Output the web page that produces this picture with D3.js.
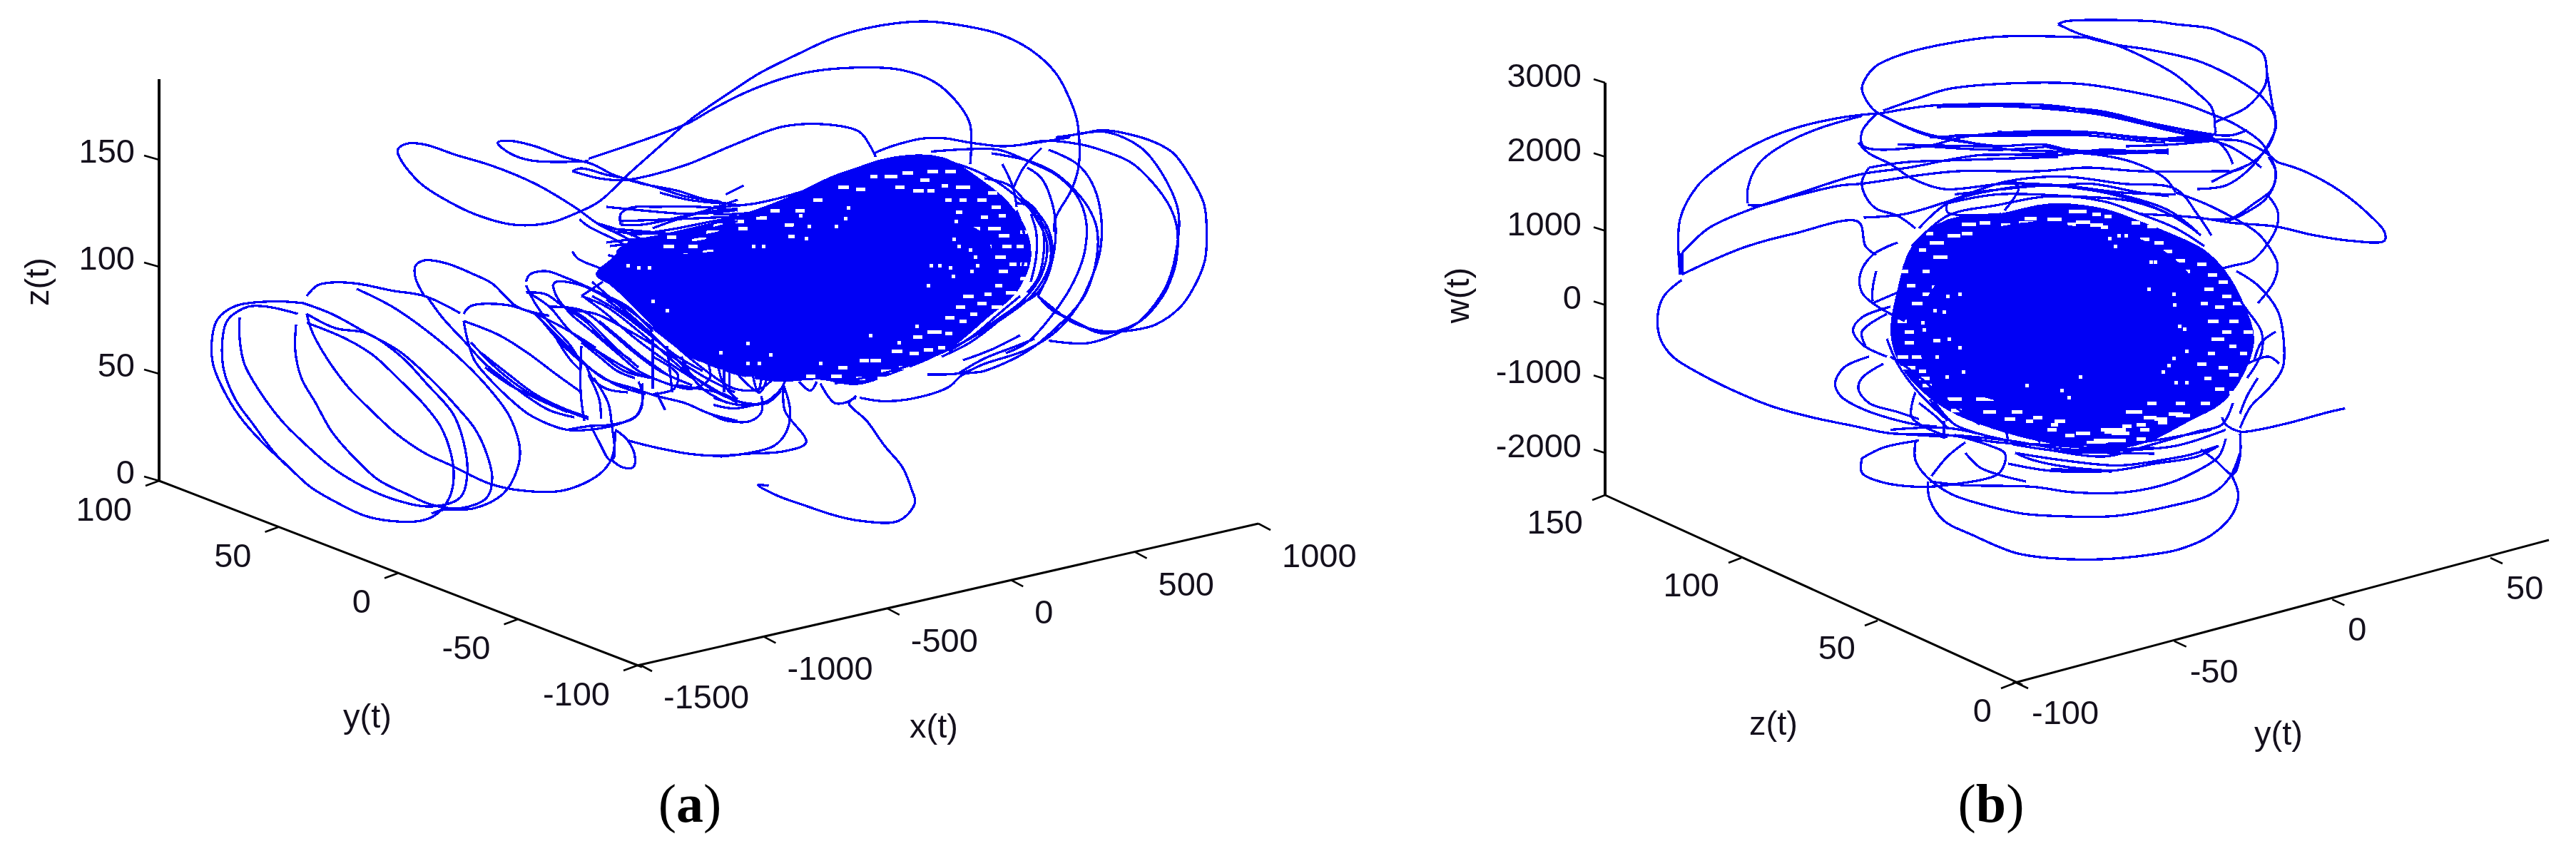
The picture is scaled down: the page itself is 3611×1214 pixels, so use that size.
<!DOCTYPE html>
<html><head><meta charset="utf-8">
<script src="https://cdn.jsdelivr.net/npm/d3@7/dist/d3.min.js"></script>
<style>html,body{margin:0;background:#fff}svg{display:block}text{font-family:"Liberation Sans",Arial,sans-serif;fill:#14101c}.lab{filter:blur(.6px)}</style>
</head><body><svg id="c" width="3611" height="1214"></svg>
<script>
// ---------- axis values ----------
const aZTicks=[0,50,100,150], aYTicks=[100,50,0,-50,-100], aXTicks=[-1500,-1000,-500,0,500,1000];
const bWTicks=[-2000,-1000,0,1000,2000,3000], bZTicks=[150,100,50,0], bYTicks=[-100,-50,0,50];
// ---------- trajectory (a): projected view-plane readings, left part ----------
const aLeftTraces=[
[[350,850],[270,845],[160,858],[110,895],[95,945],[97,1020],[125,1090],[170,1165],[235,1240],[300,1300],[370,1365],[450,1412],[520,1445],[590,1460],[680,1460],[722,1443],[760,1395],[772,1340],[765,1275],[735,1195],[685,1130],[620,1065],[545,995],[470,950],[360,905]],
[[335,880],[250,860],[195,860],[140,895],[125,940],[127,1035],[160,1120],[210,1190],[270,1270],[330,1330]],
[[172,890],[172,950],[185,1020],[230,1100],[290,1180],[350,1240],[430,1310],[520,1365],[620,1405],[710,1420],[790,1395],[810,1330],[800,1240],[770,1160],[700,1080],[625,1000],[530,935],[440,920],[360,880]],
[[330,910],[328,985],[345,1060],[385,1130],[430,1210],[490,1280],[560,1345],[640,1385],[710,1415],[790,1425],[865,1395],[880,1340],[860,1260],[830,1200],[780,1140],[720,1075],[620,985],[530,935],[430,880],[350,850]],
[[360,830],[390,800],[430,792],[500,795],[600,815],[690,830],[790,878]],
[[500,810],[600,860],[700,930],[800,1015],[880,1100],[930,1170],[958,1265],[945,1330],[910,1385],[830,1425],[740,1430],[710,1440]],
[[360,880],[375,930],[420,1010],[480,1090],[540,1150],[610,1215],[690,1270],[765,1305],[870,1355],[960,1375],[1080,1375],[1180,1330],[1215,1285],[1225,1210]],
[[690,830],[665,780],[665,745],[690,730],[750,738],[830,770],[880,795],[950,860],[1040,885]],
[[700,835],[740,890],[800,955],[860,1020],[910,1060],[975,1110],[1040,1150],[1110,1170]],
[[800,880],[820,858],[920,855],[1000,880],[1090,925],[1170,975]],
[[800,900],[810,950],[830,1010],[870,1060],[920,1110],[980,1160],[1040,1190],[1090,1205],[1150,1205],[1230,1190],[1290,1160],[1302,1110],[1290,1070]],
[[800,900],[900,940],[980,990],[1060,1050],[1130,1100]],
[[820,960],[900,1040],[980,1100],[1060,1140],[1150,1175]],
[[975,800],[1000,850],[1040,905],[1100,970],[1130,1020]],
[[975,820],[1030,825],[1080,860],[1140,900],[1200,960],[1270,1010]],
[[975,790],[985,770],[1030,760],[1090,780],[1180,820],[1260,860],[1330,930]],
[[1050,800],[1060,790],[1130,800],[1210,840],[1280,880],[1330,930]],
[[1050,800],[1060,830],[1100,880],[1160,930],[1230,990],[1290,1040],[1330,1060]],
[[1130,970],[1128,1100],[1138,1180]],
[[1150,1050],[1180,1120],[1185,1175]],
[[1165,1060],[1205,1130],[1215,1190],[1222,1280],[1210,1290],[1180,1240],[1155,1190]],
[[1215,1290],[1245,1310],[1275,1310],[1280,1280],[1260,1235],[1225,1205]],
[[1300,1075],[1300,1130],[1280,1170],[1220,1190],[1150,1195],[1090,1205]],
[[1340,1100],[1365,1150]],
[[1100,870],[1170,880],[1250,920],[1320,960],[1400,1010],[1480,1060],[1560,1100]],
[[1130,830],[1200,860],[1280,920],[1340,970],[1420,1040],[1500,1090],[1568,1130]],
[[1040,860],[1130,870],[1210,930],[1280,990],[1350,1040],[1440,1080]],
[[980,820],[1040,860],[1100,930],[1180,990],[1250,1040],[1330,1060]],
[[1000,880],[1060,940],[1120,1000],[1190,1060],[1280,1090],[1340,1110],[1420,1130],[1490,1160],[1568,1180]],
[[1020,900],[1080,970],[1150,1030],[1230,1080],[1310,1105]],
[[1140,960],[1200,1000],[1270,1040],[1320,1060]],
[[1330,950],[1330,1090]],[[1370,970],[1385,1100]],[[1410,1000],[1440,1060]],
[[1480,1000],[1490,1060],[1440,1090],[1385,1080],[1330,1060]],
[[1260,1235],[1340,1255],[1430,1272],[1510,1278],[1600,1272],[1700,1265],[1760,1240],[1700,1150],[1697,1080]],
[[1110,600],[1040,625],[940,630],[830,600],[740,555],[680,515],[625,450],[615,420],[640,403],[690,405],[780,435],[880,465],[1000,515],[1110,580],[1180,630],[1260,670],[1320,720]],
[[1110,600],[1180,565],[1260,490],[1350,410],[1430,340],[1500,290],[1560,250],[1630,205],[1730,155],[1840,105],[1950,75],[2090,60],[2200,72],[2300,95],[2390,140],[2460,205],[2500,280],[2520,340],[2525,460],[2505,530],[2460,610],[2455,650]],
[[1150,452],[990,450],[930,430],[895,400],[930,395],[1000,410],[1080,440],[1160,460],[1220,490],[1300,515],[1400,535],[1480,560],[1568,575]],
[[1150,445],[1240,415],[1340,380],[1430,345],[1500,305],[1600,255],[1730,210],[1850,192],[2020,195],[2120,230],[2190,295],[2220,350],[2220,460]],
[[1105,480],[1130,472],[1200,490],[1250,500],[1340,525],[1420,550],[1520,565]],
[[1105,480],[1180,500],[1250,505],[1330,490],[1430,460],[1560,405],[1695,355],[1830,350],[1910,370],[1940,410],[1955,440]],
[[1240,630],[1240,600],[1270,582],[1340,580],[1460,580],[1568,590]],
[[1240,630],[1300,630],[1400,610],[1480,590],[1568,560]],
[[1125,615],[1150,635],[1240,680],[1300,720]],
[[1105,705],[1120,725],[1200,760],[1260,800],[1330,860],[1400,920]],
[[1130,830],[1190,790]],
[[1205,715],[1280,730],[1360,715],[1470,700],[1568,680]],
[[1210,690],[1300,680],[1420,670],[1568,640]],
[[1190,770],[1270,770]],
[[1180,900],[1240,950],[1300,1000],[1370,1050]],
[[1090,860],[1150,900],[1220,970],[1290,1030]],
[[1140,835],[1200,880],[1270,940],[1350,1000],[1440,1060]],
[[1160,830],[1230,870],[1310,930],[1400,1000],[1470,1040]],
[[1180,820],[1250,860],[1330,920],[1420,990]],
[[1130,960],[1180,1000],[1230,1040],[1280,1060]],
[[1080,960],[1110,990],[1140,1020],[1160,1060],[1200,1090],[1260,1100]],
[[1060,950],[1100,1010],[1130,1040]],
[[850,990],[920,1045],[1000,1105],[1080,1145],[1150,1170]],
[[860,1030],[930,1080],[1010,1120],[1090,1155]],
[[1330,1000],[1400,1050],[1390,1090],[1330,1105]],
[[1400,1080],[1460,1090],[1530,1105],[1568,1125]],
[[1510,1010],[1530,1080],[1568,1120]],
[[1530,1010],[1530,1100]],[[1545,1030],[1545,1100]],
[[1270,660],[1400,640],[1500,620],[1568,610]],
[[1330,640],[1450,600],[1568,585]],
[[1220,650],[1330,655],[1450,650],[1568,620]],
[[1200,680],[1300,670],[1440,680],[1568,650]],
[[1350,540],[1430,560],[1520,570]],
[[1170,625],[1250,650],[1340,690]]
];
// ---------- trajectory (a): right part ----------
const aRightTraces=[
[[960,385],[1030,375],[1090,365],[1160,375],[1240,400],[1290,430],[1340,500],[1375,570],[1383,640],[1378,730],[1350,800],[1310,860],[1240,910],[1180,925],[1110,930],[1050,920],[1000,900],[960,870],[910,830]],
[[870,405],[930,395],[1030,405],[1100,425],[1170,455],[1230,510],[1280,580],[1300,640],[1298,730],[1280,790],[1260,830],[1210,890],[1170,915],[1100,935],[1070,930],[1010,900],[960,875]],
[[1000,380],[1100,370],[1200,415],[1260,490],[1303,590],[1300,690],[1275,790],[1240,850],[1190,905],[1130,935]],
[[940,955],[1000,962],[1050,962],[1110,945],[1170,915]],
[[600,1050],[700,1045],[760,1020],[880,980],[960,930],[1020,860],[1060,780],[1085,700],[1085,590],[1060,510],[1020,460],[940,420]],
[[410,1115],[480,1125],[570,1115],[660,1085],[700,1050],[760,1040],[880,985],[960,920],[1040,830],[1075,720],[1075,640],[1050,580],[1000,520],[950,480],[880,450],[780,430]],
[[450,430],[500,410],[590,388],[650,388],[720,400],[810,410],[870,405],[1000,385]],
[[610,425],[720,418],[800,420],[900,460],[960,490],[1020,550],[1045,620],[1040,710],[1010,790],[960,870],[880,960],[820,990]],
[[880,470],[920,500],[950,570],[960,650],[945,750],[910,830]],
[[810,460],[840,525],[850,580]],[[920,415],[870,470],[840,530]],
[[910,830],[950,870],[1000,895],[1060,925]],
[[35,545],[85,520]],
[[0,580],[120,570],[300,520],[420,470]],
[[0,600],[110,595],[250,545],[350,510]],
[[300,1075],[340,1130],[380,1125],[400,1110]],
[[400,1115],[380,1130],[430,1180],[480,1250],[530,1310],[555,1370],[565,1410],[520,1460],[410,1460],[340,1445],[250,1415],[180,1390],[125,1360],[155,1362]],
[[197,1080],[215,1150],[205,1210],[170,1250],[100,1270],[20,1280]],
[[240,1070],[272,1095],[290,1070]],[[110,1050],[125,1100],[135,1060]],
[[30,1020],[30,1090]],[[45,1020],[45,1100]],[[60,1040],[130,1100],[150,1060]],
[[0,1115],[70,1135],[140,1130],[190,1090],[200,1070]],
[[0,1165],[40,1180],[105,1180],[135,1155],[135,1110]],
[[0,1135],[60,1145],[150,1125]],
[[-320,770],[-250,830],[-170,910],[-100,975],[-20,1040],[60,1090],[130,1090],[170,1060]],
[[-340,790],[-260,860],[-180,930],[-110,1000],[-50,1060],[30,1110],[90,1130],[150,1130],[190,1095]],
[[-300,840],[-220,900],[-150,960],[-90,1020],[-30,1090],[40,1130]],
[[-300,580],[-200,590],[-60,600],[60,590]],
[[-300,640],[-180,650],[-60,660],[60,660]],
[[-260,620],[-120,615],[0,610],[130,605]],
[[-240,680],[-100,650],[60,610],[200,560],[350,490],[500,450],[640,450],[760,490],[860,560],[930,640],[945,730],[900,820],[800,900],[660,980],[500,1040],[340,1075]],
[[850,570],[880,575],[920,610],[945,660],[950,720],[935,780],[900,830],[860,850]],
[[700,1010],[780,980],[860,940]],[[690,1045],[760,1005],[850,970],[900,950]],
[[760,500],[830,520],[890,590],[935,680],[920,770],[870,840],[790,900],[700,960]],
[[870,560],[905,590],[925,650],[925,720],[910,780],[880,820]],
[[890,600],[905,650],[905,720],[890,790]],
[[850,590],[870,650],[870,730],[850,800]],
[[800,900],[720,960],[640,1000]],
[[860,830],[800,880],[730,940],[660,985]]
];
// dense core of (a): outline of the hatched band, its light flecks, outline of the solid centre and its gaps
const aBandOutline=[[-240,680],[-100,650],[60,610],[200,560],[350,490],[500,440],[640,440],[760,510],[830,570],[880,650],[890,730],[850,820],[770,890],[660,980],[500,1050],[400,1080],[300,1065],[180,1070],[60,1050],[-60,1000],[-170,910],[-270,810],[-330,770],[-280,720]];
const aBandFlecks=[[440,495,10],[480,495,25],[530,485,20],[580,505,15],[600,480,20],[650,480,20],[510,525,15],[560,535,20],[600,535,10],[640,520,8],[680,525,10],[700,525,10],[770,540,15],[740,560,15],[690,560,10],[650,560,8],[630,575,8],[680,595,8],[780,580,15],[800,605,10],[750,608,10],[770,640,25],[800,660,20],[730,640,8],[760,690,10],[810,690,15],[790,720,20],[860,650,10],[850,690,10],[860,740,10],[860,780,10],[800,760,15],[830,740,10],[790,800,10],[820,820,20],[760,825,10],[700,830,20],[740,850,15],[680,860,15],[720,880,10],[780,860,20],[650,890,15],[690,900,10],[600,930,30],[650,935,10],[560,945,15],[630,975,10],[590,980,15],[500,985,20],[550,990,15],[440,1010,20],[470,1040,20],[410,1010,15],[520,1030,20],[350,1030,15],[330,1055,20],[400,1060,15],[460,1060,20],[260,1055,15],[-110,715,50],[-30,705,20],[-140,690,20],[-60,670,30],[-20,650,25],[-200,695,10],[-130,665,15],[-70,690,15],[0,630,15],[70,640,15],[60,620,15],[120,610,20],[160,590,15],[200,630,15],[230,590,15],[280,560,15],[350,525,20],[400,530,15],[-120,920,10],[-180,880,15],[-160,920,10],[-100,985,10],[-60,990,10],[-230,850,10],[-200,880,10],[-130,950,10],[-40,1030,15],[0,1040,15],[60,1030,15],[90,1060,15],[-210,800,8],[-270,770,10],[-220,745,20],[-190,745,10]];
const aCoreOutline=[[-270,700],[-210,680],[-100,710],[0,705],[100,690],[180,660],[250,620],[370,570],[450,540],[540,550],[640,565],[680,610],[750,650],[780,700],[770,770],[690,820],[640,870],[560,930],[440,980],[300,1030],[180,1045],[100,1045],[0,1025],[-60,1005],[-110,970],[-170,910],[-240,840],[-290,780],[-320,770],[-270,740]];
const aCoreGaps=[[610,745],[635,745],[665,750],[603,800],[440,940],[97,963],[20,988],[160,995],[672,775],[688,690],[680,620],[345,635],[370,612],[378,582],[268,635],[245,605],[260,668],[215,662],[222,662],[140,690],[112,690],[675,670],[720,700],[735,720],[725,760],[740,745],[570,915],[520,960],[300,1018],[97,1018],[128,1018],[-180,750],[-210,750],[-240,745],[-130,870],[-170,845]];
// ---------- trajectory (b) ----------
const bTraces=[
[[1170,68],[1190,60],[1440,60],[1500,68],[1600,80],[1650,100],[1700,120],[1745,150],[1755,200],[1750,240],[1700,300],[1640,330],[1610,345],[1610,375],[1500,390]],
[[1170,68],[1230,95],[1330,125],[1430,170],[1500,210],[1560,260],[1600,300],[1610,345]],
[[1250,105],[1000,103],[860,122],[740,150],[660,185],[630,220],[620,250],[650,305],[700,335],[800,375],[900,395],[1040,420],[1170,425],[1290,435],[1380,455],[1470,500],[1500,540]],
[[1250,105],[1330,125],[1430,140],[1560,170],[1650,210],[1700,240],[1740,270],[1775,320],[1780,360],[1750,420],[1700,480],[1640,520],[1560,530]],
[[680,310],[780,275],[860,250],[1010,235],[1230,235],[1400,262],[1520,290],[1600,320],[1660,345],[1740,400],[1770,450],[1780,480],[1770,530],[1720,570],[1660,610],[1600,615]],
[[660,320],[780,300],[830,295],[1140,295],[1280,315],[1440,350],[1520,365],[1600,385],[1640,420],[1660,460]],
[[830,300],[1030,298],[1140,305],[1280,320],[1440,355],[1520,372],[1600,385]],
[[110,770],[110,615],[160,520],[230,460],[320,405],[430,360],[560,330],[660,318]],
[[115,770],[112,710]],[[118,770],[116,710]],
[[300,570],[300,530],[330,460],[410,400],[500,360],[620,325]],
[[300,575],[340,575],[430,550],[560,520],[620,515],[790,490],[890,480],[1115,480],[1250,470],[1400,480],[1640,480],[1660,480],[1690,470]],
[[115,710],[190,640],[300,590],[450,540],[610,490],[750,470],[950,435],[1170,435],[1290,420],[1400,425],[1480,430]],
[[115,770],[200,730],[300,690],[430,655],[610,622],[630,690],[660,715]],
[[115,785],[65,830],[48,880],[55,950],[90,1000],[170,1050],[260,1095],[370,1140],[480,1170],[600,1195],[700,1215],[860,1220],[1000,1240],[1200,1248],[1400,1240],[1600,1205]],
[[1785,455],[1860,480],[1960,535],[2040,600],[2085,650],[2085,675],[1990,675],[1880,658],[1780,635],[1660,625],[1560,610],[1400,600]],
[[1785,455],[1740,420],[1680,395],[1600,390],[1500,370],[1400,345]],
[[1975,1145],[1930,1155],[1820,1185],[1730,1205],[1680,1210],[1640,1190],[1630,1170]],
[[1755,200],[1775,320]],
[[1775,310],[1780,350],[1760,410],[1715,455],[1660,480],[1600,510]],
[[1760,440],[1780,480],[1775,520],[1750,560],[1690,600],[1645,620]],
[[1760,550],[1785,590],[1785,630],[1760,680],[1715,730],[1660,745],[1600,760]],
[[1500,540],[1580,570],[1660,610],[1725,650],[1760,690],[1785,740],[1775,790],[1730,850]],
[[1670,760],[1730,800],[1785,870],[1800,930],[1800,1030],[1760,1090],[1710,1140],[1680,1200]],
[[1680,1215],[1680,1280],[1660,1330],[1610,1290],[1570,1260]],
[[1655,1330],[1675,1385],[1660,1440],[1600,1500],[1510,1540],[1430,1555],[1290,1568],[1150,1565],[1050,1550],[930,1500],[850,1460],[810,1400],[805,1350]],
[[620,1285],[620,1325],[670,1350],[780,1365],[860,1360],[1000,1330],[1020,1300],[1020,1270],[980,1250],[880,1220]],
[[620,1285],[680,1255],[780,1235]],
[[770,1240],[770,1290],[800,1335],[870,1385],[960,1415],[1070,1440],[1170,1447],[1325,1447],[1480,1420],[1600,1385],[1650,1340],[1680,1270]],
[[815,1335],[860,1280],[910,1240]],
[[810,1350],[900,1360],[1100,1365],[1210,1380],[1360,1380],[1480,1355],[1560,1320],[1620,1280],[1640,1230]],
[[1030,1300],[1150,1320],[1320,1320],[1440,1300],[1560,1280],[1620,1250]],
[[1050,1270],[1100,1290],[1200,1310],[1320,1320]],
[[910,1270],[950,1310],[1000,1330],[1080,1350]],
[[640,470],[620,510],[630,550],[660,585],[720,605],[770,640]],
[[720,680],[650,715],[615,770],[620,820],[650,850],[700,880],[740,900]],
[[660,760],[650,810],[650,845]],[[720,820],[650,850]],
[[700,860],[620,890],[595,925],[620,965],[690,1000]],
[[690,880],[620,930],[630,970]],
[[640,1000],[570,1030],[545,1075],[560,1110],[630,1150],[770,1190],[830,1195]],
[[680,1020],[620,1060],[610,1090],[640,1130],[720,1155],[780,1175]],
[[660,320],[620,370],[625,410],[800,410],[900,385],[1050,370],[1250,370],[1400,385],[1560,390],[1610,375]],
[[610,400],[640,430],[700,460],[760,500],[850,530],[1020,515],[1180,520],[1350,540],[1500,545]],
[[720,405],[1000,410],[1130,405],[1200,420],[1360,425],[1480,420]],
[[810,385],[1250,372],[1430,390],[1560,380]],
[[880,380],[1050,380],[1250,378]],
[[690,330],[800,378],[1000,410]],
[[1130,410],[1180,420],[1300,430],[1480,425]],
[[625,610],[740,600],[860,565],[1020,510],[1180,495],[1350,515],[1500,530],[1560,600],[1600,660]],
[[780,640],[860,570],[1010,530],[1140,520],[1300,540],[1460,590],[1560,650]],
[[880,545],[1020,530],[1150,520],[1240,530],[1360,550],[1480,590],[1560,650]],
[[860,570],[1000,545],[1200,550],[1380,565],[1500,610],[1570,660]],
[[1030,510],[1170,520],[1260,515],[1400,540],[1480,550]],
[[760,690],[860,605],[1000,575],[1150,550],[1300,565],[1400,600],[1500,640],[1580,690]],
[[1400,385],[1500,395],[1600,395],[1650,410],[1700,440],[1740,470]],
[[1060,300],[1280,310],[1430,345],[1560,370],[1650,380],[1700,365]],
[[1360,410],[1490,405],[1600,395]],
[[1000,370],[1260,380],[1400,395],[1470,400]],
[[800,410],[1000,420],[1130,412]],
[[950,435],[1170,430]],
[[640,470],[740,455],[860,450],[1170,440]],
[[1040,1245],[1180,1265],[1360,1262],[1500,1250],[1640,1205]],
[[1050,1270],[1180,1290],[1340,1305],[1460,1290],[1540,1275],[1620,1250]],
[[1150,1315],[1320,1322]],
[[880,1220],[1030,1235],[1200,1260],[1440,1255]],
[[700,1205],[860,1200],[1000,1230]],
[[700,1000],[760,1040],[820,1090],[880,1140],[950,1190]],
[[690,950],[720,1020],[770,1090],[850,1170]],
[[780,1130],[830,1170],[860,1200]],
[[820,1120],[880,1190],[1030,1235]],[[770,1100],[760,1170],[850,1220]],
[[850,1180],[850,1230]],[[1020,1190],[1030,1235]],
[[810,1120],[860,1180]],[[1060,1190],[1120,1240]],
[[700,1215],[860,1225]],[[1100,1245],[1360,1262]],[[1210,1268],[1440,1272]],
[[1650,800],[1700,870],[1740,930],[1740,990],[1700,1060]],
[[1780,930],[1740,960],[1720,1010]],[[1700,1020],[1760,1000],[1790,1020]],
[[1730,1060],[1700,1110],[1680,1160]],
[[1660,1130],[1630,1190],[1560,1210],[1420,1250],[1300,1280],[1140,1260]],
[[1020,590],[1060,525],[1030,510]],
[[860,565],[860,595],[1010,600]]
];
const bBandOutline=[[700,930],[720,810],[760,690],[860,615],[1000,600],[1150,570],[1300,585],[1400,620],[1500,660],[1580,700],[1640,760],[1690,850],[1720,950],[1690,1050],[1630,1130],[1540,1180],[1420,1240],[1300,1262],[1130,1240],[980,1200],[860,1150],[770,1080],[720,1010]];
const bBandFlecks=[[1200,593,40],[1265,600,15],[1300,607,10],[1375,625,15],[1420,635,15],[1195,628,15],[1220,622,30],[1260,630,25],[1290,636,10],[1140,615,30],[1075,612,25],[1010,630,15],[1060,625,30],[900,628,30],[950,625,20],[900,655,20],[860,660,25],[800,655,10],[810,680,30],[780,700,10],[900,705,30],[950,720,10],[820,720,30],[880,740,25],[920,742,15],[790,760,10],[860,760,10],[900,795,10],[955,760,8],[815,805,15],[850,805,15],[790,825,10],[760,850,20],[745,800,15],[730,760,10],[740,930,15],[720,900,15],[740,960,15],[720,1000,20],[760,1000,25],[800,990,15],[780,1040,10],[730,1030,30],[780,1060,20],[790,1080,15],[740,1080,15],[760,1120,15],[1400,670,15],[1440,680,15],[1465,705,15],[1500,730,15],[1560,740,15],[1520,760,10],[1590,770,15],[1620,790,15],[1580,810,15],[1630,830,15],[1570,850,10],[1610,860,15],[1660,850,15],[1590,900,20],[1650,900,15],[1600,950,25],[1630,930,15],[1690,930,15],[1650,970,10],[1680,990,10],[1590,990,10],[1560,1020,15],[1620,1030,15],[1650,1050,15],[1580,1060,10],[1610,1090,15],[1650,1100,10],[1570,1130,15],[1500,1130,15],[1420,1130,15],[1480,1160,30],[1410,1170,25],[1360,1155,35],[1450,1185,15],[1400,1205,15],[1300,1210,40],[1220,1215,30],[1160,1180,20],[1140,1205,15],[1320,1235,30],[1220,1250,20],[1270,1235,40],[860,1118,30],[940,1118,40],[870,1150,20],[960,1155,25],[1040,1155,20],[1290,1205,60],[1390,1190,15],[1350,1195,15],[1080,1180,10],[1150,1190,10],[1250,1240,50],[1190,1220,15],[1020,1175,20],[1100,1170,15],[1390,1230,15],[1320,1215,40],[1440,1175,25],[1500,1165,30]];
const bCoreOutline=[[880,700],[960,650],[1100,622],[1250,640],[1400,670],[1490,720],[1550,790],[1560,870],[1565,960],[1540,1040],[1480,1085],[1350,1125],[1200,1140],[1050,1135],[950,1110],[830,1070],[790,1010],[775,930],[790,860],[830,790],[860,730]];
const bCoreGaps=[[895,825],[860,830],[850,875],[825,870],[790,905],[795,925],[825,955],[835,955],[865,950],[895,975],[830,1000],[905,1042],[858,1057],[1082,1080],[1180,1095],[1232,1057],[1200,1115],[1425,810],[1495,825],[1497,855],[1510,915],[1525,922],[1465,1043],[1480,1025],[1500,1072],[1530,1072],[1494,1005],[1530,985],[1330,690],[1315,668],[1340,660],[1360,660],[1442,735],[1430,735]];
// ---------- drawing ----------
const svg=d3.select("#c");
function obliqueScale(domain,p0,p1){
  const sx=d3.scaleLinear().domain(domain).range([p0[0],p1[0]]);
  const sy=d3.scaleLinear().domain(domain).range([p0[1],p1[1]]);
  return v=>[sx(v),sy(v)];
}
function axis3D(o){
  const g=svg.append("g");
  const s=obliqueScale(o.domain,o.p0,o.p1);
  g.append("line").attr("x1",o.line[0][0]).attr("y1",o.line[0][1]).attr("x2",o.line[1][0]).attr("y2",o.line[1][1])
    .attr("stroke","#000").attr("stroke-width",o.width||3);
  o.ticks.forEach(t=>{
    const [x,y]=s(t);
    g.append("line").attr("x1",x).attr("y1",y).attr("x2",x+o.tick[0]).attr("y2",y+o.tick[1]).attr("stroke","#000").attr("stroke-width",2.6);
    g.append("text").attr("class","lab").attr("x",x+o.lab[0]).attr("y",y+o.lab[1]).attr("dy","0.36em").attr("text-anchor",o.anchor).attr("font-size",47).text(t);
  });
  if(o.title){
    const tt=g.append("text").attr("class","lab").attr("font-size",47).attr("text-anchor","middle").attr("dy","0.3em").text(o.title.text);
    if(o.title.rot) tt.attr("transform",`translate(${o.title.at[0]},${o.title.at[1]}) rotate(-90)`);
    else tt.attr("x",o.title.at[0]).attr("y",o.title.at[1]);
  }
}
axis3D({domain:[0,150],p0:[223,674],p1:[223,224],line:[[223,674],[223,111]],ticks:aZTicks,tick:[-21,-6],lab:[-34,-13],anchor:"end",width:4,title:{text:"z(t)",at:[54,395],rot:true}});
axis3D({domain:[100,-100],p0:[223,674],p1:[893,933],line:[[223,674],[900,935]],ticks:aYTicks,tick:[-19,7],lab:[-38,39],anchor:"end",title:{text:"y(t)",at:[515,1006]}});
axis3D({domain:[-1500,1000],p0:[897,932],p1:[1764,734],line:[[893,933],[1764,734]],ticks:aXTicks,tick:[17,9],lab:[33,44],anchor:"start",title:{text:"x(t)",at:[1309,1020]}});
axis3D({domain:[-2000,3000],p0:[2250,635],p1:[2250,116],line:[[2250,694],[2250,116]],ticks:bWTicks,tick:[-16,-5],lab:[-33,-11],anchor:"end",width:4,title:{text:"w(t)",at:[2045,414],rot:true}});
axis3D({domain:[150,0],p0:[2250,694],p1:[2823,958],line:[[2250,694],[2835,960]],ticks:bZTicks,tick:[-18,7],lab:[-31,37],anchor:"end",title:{text:"z(t)",at:[2486,1016]}});
axis3D({domain:[-100,50],p0:[2826,957],p1:[3491,782],line:[[2821,958],[3573,757]],ticks:bYTicks,tick:[17,8],lab:[22,41],anchor:"start",title:{text:"y(t)",at:[3194,1030]}});

function drawTraces(sel,traces,xs,ys){
  const line=d3.line().x(d=>xs(d[0])).y(d=>ys(d[1])).curve(d3.curveCatmullRom.alpha(.5));
  sel.selectAll(null).data(traces).join("path").attr("d",line).attr("fill","none").attr("stroke","#0000f5").attr("stroke-width",3.3).attr("stroke-linejoin","round");
}
function drawCore(sel,band,flecks,outline,gaps,xs,ys){
  const line=d3.line().x(d=>xs(d[0])).y(d=>ys(d[1])).curve(d3.curveCatmullRomClosed.alpha(.5));
  sel.append("path").datum(band).attr("d",line).attr("fill","#0000f5");
  sel.selectAll(null).data(flecks).join("rect").attr("x",d=>xs(d[0])).attr("y",d=>ys(d[1])-2.5).attr("width",d=>xs(d[2])-xs(0)+5).attr("height",5).attr("fill","#fff");
  sel.append("path").datum(outline).attr("d",line).attr("fill","#0000f5");
  sel.selectAll(null).data(gaps).join("rect").attr("x",d=>xs(d[0])-2.5).attr("y",d=>ys(d[1])-2.5).attr("width",5).attr("height",5).attr("fill","#fff");
}
const yA=d3.scaleLinear().domain([0,1568]).range([0,784]);
const xAL=d3.scaleLinear().domain([0,1568]).range([250,1034]);
const xAR=d3.scaleLinear().domain([0,1568]).range([1000,1784]);
const xB=d3.scaleLinear().domain([0,1568]).range([2300,3084]);
const ga=svg.append("g").attr("shape-rendering","crispEdges");
drawCore(ga,aBandOutline,aBandFlecks,aCoreOutline,aCoreGaps,xAR,yA);
drawTraces(ga,aLeftTraces,xAL,yA);
drawTraces(ga,aRightTraces,xAR,yA);
const gb=svg.append("g").attr("shape-rendering","crispEdges");
drawCore(gb,bBandOutline,bBandFlecks,bCoreOutline,bCoreGaps,xB,yA);
drawTraces(gb,bTraces,xB,yA);

svg.append("text").attr("x",967).attr("y",1152).attr("text-anchor","middle").style("font-family","'Liberation Serif',serif").style("fill","#000").attr("font-size",76).html('(<tspan font-weight="bold">a</tspan>)');
svg.append("text").attr("x",2791).attr("y",1152).attr("text-anchor","middle").style("font-family","'Liberation Serif',serif").style("fill","#000").attr("font-size",76).html('(<tspan font-weight="bold">b</tspan>)');
</script></body></html>
